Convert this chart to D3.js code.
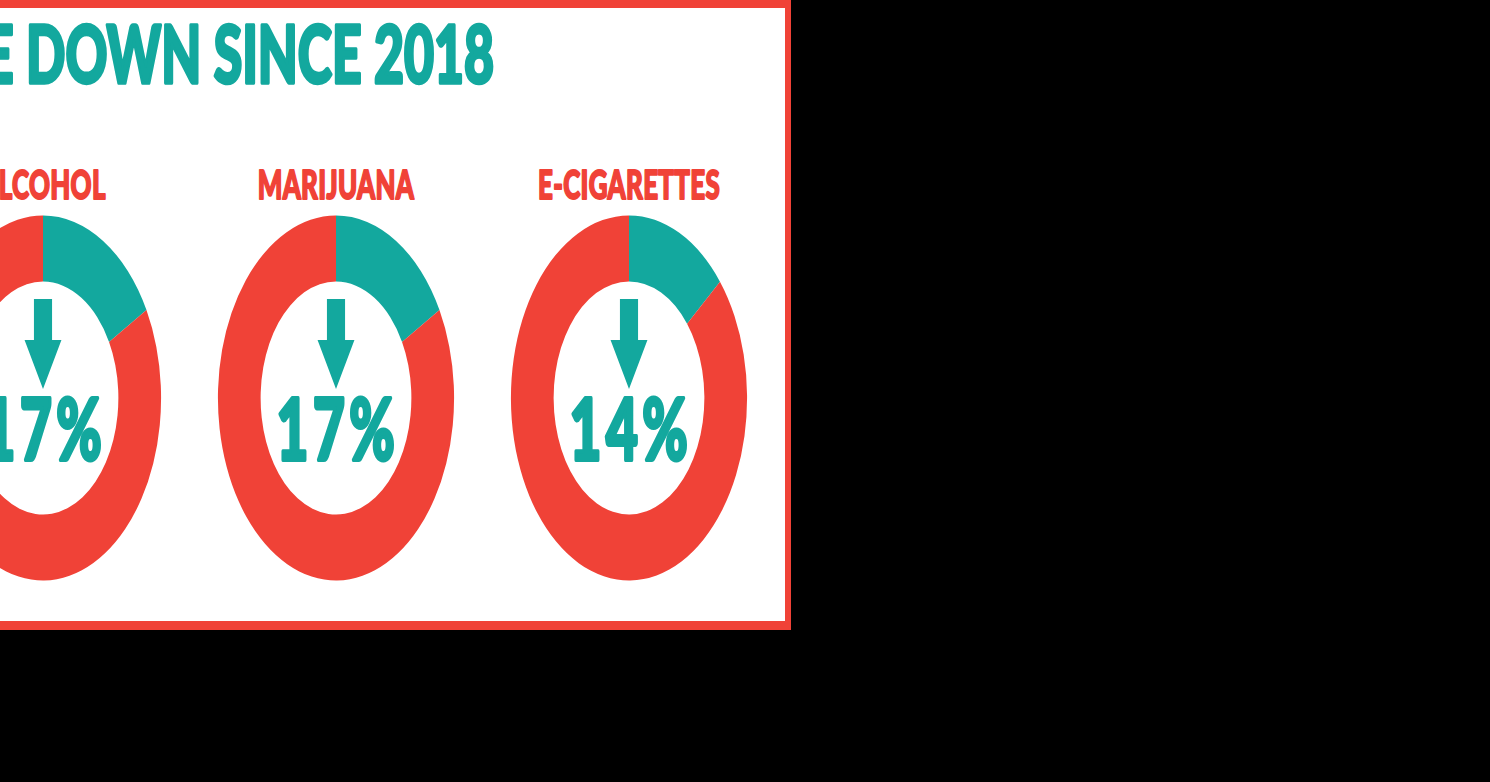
<!DOCTYPE html>
<html>
<head>
<meta charset="utf-8">
<script src="https://cdn.jsdelivr.net/npm/d3@7"></script>
<style>
  html, body { margin: 0; padding: 0; background: #000; }
  svg { display: block; }
  text { font-family: "Lato", "Roboto", sans-serif; font-weight: 900; stroke-linejoin: round; }
</style>
</head>
<body>
<div id="chart"></div>
<script>
// the data for the three rings
const substances = ["ALCOHOL", "MARIJUANA", "E-CIGARETTES"];
const declines = [17, 17, 14];      // percent down since 2018
const centersX = [43, 336, 629];
const titleText = "E DOWN SINCE 2018";

const red = "#f04237";
const teal = "#13a89e";
const width = 1490, height = 782;
// the graphic is squished horizontally in the photo
const squish = 0.647;

let svg = d3.select("#chart")
  .append("svg")
  .attr("width", width)
  .attr("height", height);

svg.append("rect")
  .attr("width", width)
  .attr("height", height)
  .attr("fill", "#000");

// red frame with white card (left edge is off-screen)
svg.append("rect")
  .attr("x", -200).attr("y", 0)
  .attr("width", 991).attr("height", 630)
  .attr("fill", red);
svg.append("rect")
  .attr("x", -200).attr("y", 8)
  .attr("width", 985).attr("height", 613)
  .attr("fill", "#fff");

// title (a stroke makes the bold font look heavier)
svg.append("text")
  .attr("transform", `translate(494,83) scale(${squish},1)`)
  .attr("text-anchor", "end")
  .attr("font-size", 80)
  .attr("fill", teal)
  .attr("stroke", teal)
  .attr("stroke-width", 3.5)
  .text(titleText);

let pie = d3.pie().sort(null).value(d => d);
let arc = d3.arc().innerRadius(116.5).outerRadius(182.5);

let cy = 398;

substances.forEach(function (name, i) {
  let g = svg.append("g")
    .attr("transform", `translate(${centersX[i]},${cy}) scale(${squish},1)`);

  g.selectAll("path.slice")
    .data(pie([declines[i], 100 - declines[i]]))
    .enter()
    .append("path")
    .attr("class", "slice")
    .attr("d", arc)
    .attr("fill", (d, j) => j === 0 ? teal : red);

  // down arrow
  g.append("path")
    .attr("d", "M-14,-99 L14,-99 L14,-58 L28.5,-58 L0,-9 L-28.5,-58 L-14,-58 Z")
    .attr("fill", teal);

  g.append("text")
    .attr("x", 3)
    .attr("y", 61.5)
    .attr("text-anchor", "middle")
    .attr("font-size", 85)
    .attr("letter-spacing", 7)
    .attr("fill", teal)
    .attr("stroke", teal)
    .attr("stroke-width", 4)
    .text(declines[i] + "%");

  g.append("text")
    .attr("y", -199)
    .attr("text-anchor", "middle")
    .attr("font-size", 40)
    .attr("letter-spacing", 0.5)
    .attr("fill", red)
    .attr("stroke", red)
    .attr("stroke-width", 2)
    .text(name);
});
</script>
</body>
</html>
